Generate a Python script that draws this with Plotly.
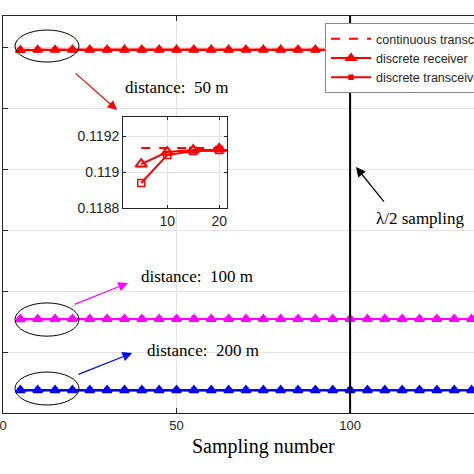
import plotly.graph_objects as go

# ---------------- data ----------------
sampling = [5, 10, 15, 20, 25, 30, 35, 40, 45, 50, 55, 60, 65, 70, 75,
            80, 85, 90, 95, 100, 105, 110, 115, 120, 125, 130, 135, 140, 145, 150]

cont_50 = 0.119133
recv_50 = [0.119044, 0.119111, 0.119122, 0.119128, 0.119130, 0.119131, 0.119131, 0.119132,
           0.119132, 0.119132, 0.119132, 0.119133, 0.119133, 0.119133, 0.119133, 0.119133,
           0.119133, 0.119133, 0.119133, 0.119133, 0.119133, 0.119133, 0.119133, 0.119133,
           0.119133, 0.119133, 0.119133, 0.119133, 0.119133, 0.119133]
trx_50 = [0.118939, 0.119094, 0.119117, 0.119122, 0.119126, 0.119128, 0.119129, 0.119130,
          0.119131, 0.119131, 0.119131, 0.119132, 0.119132, 0.119132, 0.119132, 0.119132,
          0.119132, 0.119133, 0.119133, 0.119133, 0.119133, 0.119133, 0.119133, 0.119133,
          0.119133, 0.119133, 0.119133, 0.119133, 0.119133, 0.119133]

cont_100 = 0.03080
recv_100 = [0.03076, 0.03079, 0.03080, 0.03080, 0.03080, 0.03080, 0.03080, 0.03080,
            0.03080, 0.03080, 0.03080, 0.03080, 0.03080, 0.03080, 0.03080, 0.03080,
            0.03080, 0.03080, 0.03080, 0.03080, 0.03080, 0.03080, 0.03080, 0.03080,
            0.03080, 0.03080, 0.03080, 0.03080, 0.03080, 0.03080]
trx_100 = [0.03072, 0.03078, 0.03079, 0.03080, 0.03080, 0.03080, 0.03080, 0.03080,
           0.03080, 0.03080, 0.03080, 0.03080, 0.03080, 0.03080, 0.03080, 0.03080,
           0.03080, 0.03080, 0.03080, 0.03080, 0.03080, 0.03080, 0.03080, 0.03080,
           0.03080, 0.03080, 0.03080, 0.03080, 0.03080, 0.03080]

cont_200 = 0.00750
recv_200 = [0.00748, 0.00749, 0.00750, 0.00750, 0.00750, 0.00750, 0.00750, 0.00750,
            0.00750, 0.00750, 0.00750, 0.00750, 0.00750, 0.00750, 0.00750, 0.00750,
            0.00750, 0.00750, 0.00750, 0.00750, 0.00750, 0.00750, 0.00750, 0.00750,
            0.00750, 0.00750, 0.00750, 0.00750, 0.00750, 0.00750]
trx_200 = [0.00746, 0.00749, 0.00750, 0.00750, 0.00750, 0.00750, 0.00750, 0.00750,
           0.00750, 0.00750, 0.00750, 0.00750, 0.00750, 0.00750, 0.00750, 0.00750,
           0.00750, 0.00750, 0.00750, 0.00750, 0.00750, 0.00750, 0.00750, 0.00750,
           0.00750, 0.00750, 0.00750, 0.00750, 0.00750, 0.00750]

legend_names = ["continuous transceiver", "discrete receiver", "discrete transceiver"]
x_ticks = [0, 50, 100, 150]
y_grid = [0, 0.02, 0.04, 0.06, 0.08, 0.10, 0.12]
inset_yticks = [0.1188, 0.119, 0.1192]
inset_yticktext = ["0.1188", "0.119", "0.1192"]
inset_xticks = [10, 20]
lambda_half = 100

# ---------------- styling ----------------
RED, MAG, BLUE = "#ff0000", "#ff00ff", "#0000ff"
AX = "#262626"
GRID = "#e3e3e3"
SERIF = "Liberation Serif"
SANS = "Liberation Sans"

x_range = [0, 135.7]
y_range = [0, 0.1302]
ix_range = [1.5, 21.5]
iy_range = [0.1188, 0.119306]

fig = go.Figure()

series = [
    (RED, cont_50, recv_50, trx_50, True),
    (MAG, cont_100, recv_100, trx_100, False),
    (BLUE, cont_200, recv_200, trx_200, False),
]

def add_series(color, cont, recv, trx, legend, xa, ya, tri, sq, tri_size, sq_size):
    fig.add_trace(go.Scatter(
        x=[sampling[0], sampling[-1]], y=[cont, cont], mode="lines",
        line=dict(color=color, width=2, dash="dash"),
        name=legend_names[0], showlegend=legend, xaxis=xa, yaxis=ya))
    fig.add_trace(go.Scatter(
        x=sampling, y=recv, mode="lines+markers",
        line=dict(color=color, width=2),
        marker=dict(symbol=tri, size=tri_size, color=color,
                    line=dict(width=2, color=color)),
        name=legend_names[1], showlegend=legend, xaxis=xa, yaxis=ya))
    fig.add_trace(go.Scatter(
        x=sampling, y=trx, mode="lines+markers",
        line=dict(color=color, width=2),
        marker=dict(symbol=sq, size=sq_size, color=color,
                    line=dict(width=1.5, color=color)),
        name=legend_names[2], showlegend=legend, xaxis=xa, yaxis=ya))

for c, cont, recv, trx, leg in series:
    add_series(c, cont, recv, trx, leg, "x", "y", "triangle-up", "square", 8, 4)

# inset uses the 50 m data
add_series(RED, cont_50, recv_50, trx_50, False, "x2", "y2",
           "triangle-up-open", "square-open", 10, 7)

fig.update_layout(
    width=474, height=474,
    margin=dict(l=3, r=0, t=16, b=61, autoexpand=False),
    paper_bgcolor="white", plot_bgcolor="white",
    font=dict(family=SANS, color=AX, size=13),
    xaxis=dict(domain=[0, 1], range=x_range, tickvals=x_ticks, automargin=False,
               ticklabeloverflow="allow",
               ticks="inside", ticklen=5, tickcolor=AX,
               showline=True, linecolor=AX, linewidth=1, mirror="ticks",
               showgrid=True, gridcolor=GRID, gridwidth=1, zeroline=False,
               tickfont=dict(size=13, color=AX, family=SANS)),
    yaxis=dict(domain=[0, 1], range=y_range, tickvals=y_grid, automargin=False,
               showticklabels=False, ticks="inside", ticklen=5, tickcolor=AX,
               showline=True, linecolor=AX, linewidth=1, mirror=False,
               showgrid=True, gridcolor=GRID, gridwidth=1, zeroline=False),
    xaxis2=dict(domain=[0.2548, 0.4756], anchor="y2", range=ix_range,
                tickvals=inset_xticks, ticks="inside", ticklen=3, tickcolor=AX,
                showline=True, linecolor=AX, linewidth=1, mirror="ticks",
                showgrid=True, gridcolor=GRID, zeroline=False,
                tickfont=dict(size=14, color=AX, family=SANS)),
    yaxis2=dict(domain=[0.5164, 0.7456], anchor="x2", range=iy_range,
                tickvals=inset_yticks, ticktext=inset_yticktext,
                ticks="inside", ticklen=3, tickcolor=AX,
                showline=True, linecolor=AX, linewidth=1, mirror="ticks",
                showgrid=True, gridcolor=GRID, zeroline=False,
                tickfont=dict(size=14, color=AX, family=SANS)),
    legend=dict(x=0.6837, y=0.982, xanchor="left", yanchor="top",
                bgcolor="white", bordercolor="#8a8a8a", borderwidth=1,
                font=dict(size=12.5, family=SANS, color=AX),
                itemwidth=40, tracegroupgap=0),
    showlegend=True,
)

shapes = [
    dict(type="rect", xref="x2", yref="y2", x0=ix_range[0], x1=ix_range[1],
         y0=iy_range[0], y1=iy_range[1], fillcolor="white",
         line=dict(width=0), layer="below"),
    dict(type="line", xref="x", yref="paper", x0=lambda_half, x1=lambda_half,
         y0=0, y1=1, line=dict(color="black", width=2), layer="above"),
    dict(type="circle", xref="x", yref="y", x0=3.46, x1=21.9, y0=0.1151, y1=0.1256,
         line=dict(color="black", width=1)),
    dict(type="circle", xref="x", yref="y", x0=3.46, x1=21.9, y0=0.0252, y1=0.0361,
         line=dict(color="black", width=1)),
    dict(type="circle", xref="x", yref="y", x0=3.46, x1=21.9, y0=0.00262, y1=0.01344,
         line=dict(color="black", width=1)),
]
fig.update_layout(shapes=shapes)

def arrow(x, y, ax, ay, color):
    return dict(x=x, y=y, ax=ax, ay=ay, xref="x", yref="y", axref="x", ayref="y",
                text="", showarrow=True, arrowhead=2, arrowsize=1.6, arrowwidth=1.2,
                arrowcolor=color)

def label(x, y, text, anchor="center"):
    return dict(x=x, y=y, xref="x", yref="y", text=text, showarrow=False,
                xanchor=anchor, yanchor="middle",
                font=dict(family=SERIF, size=17, color="black"))

annotations = [
    arrow(32.9, 0.09934, 20.5, 0.1118, RED),
    arrow(101.7, 0.08066, 110.1, 0.06885, "black"),
    arrow(36.0, 0.04262, 20.2, 0.03541, MAG),
    arrow(37.2, 0.01967, 21.3, 0.01246, BLUE),
    label(49.9, 0.1066, "distance:  50 m"),
    label(55.8, 0.0449, "distance:  100 m"),
    label(57.6, 0.02066, "distance:  200 m"),
    label(106.9, 0.0639, "λ/2 sampling", anchor="left"),
    dict(x=0.553, y=-0.085, xref="paper", yref="paper", text="Sampling number",
         showarrow=False, xanchor="center", yanchor="middle",
         font=dict(family=SERIF, size=20, color="black")),
]
fig.update_layout(annotations=annotations)

fig.write_html("out.html")
